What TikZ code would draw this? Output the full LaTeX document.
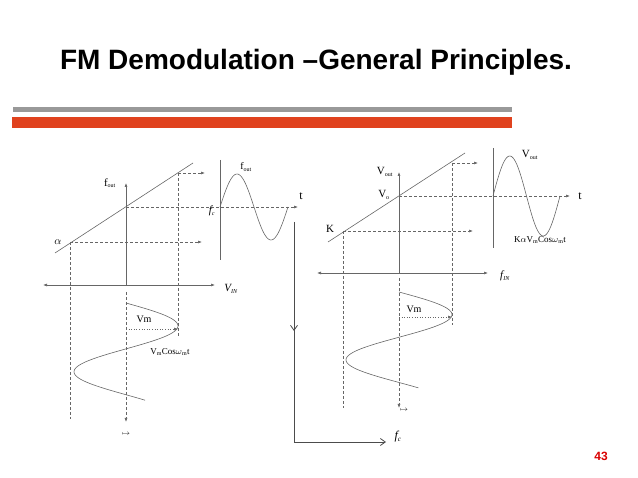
\documentclass[tikz,border=0pt]{standalone}
\usepackage{fontspec}
\setmainfont{Liberation Serif}
\newfontfamily\hfont{Liberation Sans}
\usetikzlibrary{arrows.meta}
\definecolor{barred}{HTML}{E0421E}
\begin{document}
\begin{tikzpicture}[x=1pt,y=-1pt,
  ln/.style={draw=black!60,line width=0.6pt},
  dsh/.style={ln,dash pattern=on 3pt off 2pt},
  arr/.style={-{Latex[length=4pt,width=3pt]}},
  darr/.style={{Latex[length=4pt,width=3pt]}-{Latex[length=4pt,width=3pt]}},
  lbl/.style={font=\fontsize{11}{12}\selectfont,inner sep=1pt},
  sml/.style={font=\fontsize{7}{7}\selectfont,inner sep=0.5pt}]
\useasboundingbox (0,0) rectangle (638,478);
% title
\node (title)[font=\hfont\bfseries\fontsize{28}{30}\selectfont] at (316,62) {FM Demodulation –General Principles.};
\fill[black!40] (13,107) rectangle (512,112);
\fill[barred] (12,117) rectangle (512,128);
\node (pg)[font=\hfont\bfseries\fontsize{12}{13}\selectfont,text=red!85!black] at (601,456) {43};

% ---------- left diagram
\coordinate (lo) at (126,285);
\coordinate (lc) at (126,207);
\coordinate (la) at (70,242);
\coordinate (lt) at (178,173);
\draw[ln] (55,253) -- (193,163);
\draw[ln,arr] (lo) -- (126,183);
\node[lbl] at (110,183) {f\textsubscript{\fontsize{6}{6}\selectfont out}};
\draw[ln,darr] (43,285) -- (215,285);
\node[lbl,font=\itshape\fontsize{11}{12}\selectfont] at (231,289) {V\textsubscript{\fontsize{6}{6}\selectfont IN}};
\draw[dsh,arr] (lc) -- (298,207);
\node[lbl,font=\fontsize{12}{12}\selectfont] at (301,196) {t};
\node[lbl] at (58,242) {$\alpha$};
\draw[dsh,arr] (la) -- (202,242);
\draw[dsh,arr] (lt) -- (205,173);
\draw[dsh] (lt) -- (178,337);
\draw[dsh] (la) -- (70,419);
\draw[dsh,arr] (126,292) -- (126,422);
\node[sml] at (126,434) {$\mapsto$};
\draw[ln] plot[domain=0:6.66,samples=80] ({126+52*sin(\x r)},{303+14.6*\x});
\draw[ln,dotted,arr] (126,329) -- (178,329);
\node[lbl,font=\fontsize{10}{11}\selectfont] at (144,319) {Vm};
\node[lbl,font=\fontsize{9}{10}\selectfont] at (170,352) {V\textsubscript{m}Cos$\omega$\textsubscript{m}t};
% left small sine
\draw[ln] (220,160) -- (220,260);
\draw[ln] plot[domain=0:68,samples=60] ({220+\x},{207-33*sin(\x/68*360)});
\node[lbl,font=\fontsize{10}{11}\selectfont] at (246,167) {f\textsubscript{\fontsize{6}{6}\selectfont out}};
\node[lbl,font=\itshape\fontsize{11}{12}\selectfont] at (212,211) {f\textsubscript{\fontsize{6}{6}\selectfont c}};

% big arrow
\coordinate (bt) at (294,222);
\coordinate (bc) at (294,442);
\coordinate (be) at (385,442);
\draw[draw=black!70,line width=0.8pt] (bt) -- (bc) -- (be);
\draw[draw=black!70,line width=0.8pt,-{Straight Barb[length=5pt,width=7pt]}] (294,300) -- (294,331);
\draw[draw=black!70,line width=0.8pt,-{Straight Barb[length=5pt,width=7pt]}] (360,442) -- (386,442);
\node[lbl,font=\itshape\fontsize{12}{12}\selectfont] at (398,437) {f\textsubscript{\fontsize{7}{7}\selectfont c}};

% ---------- right diagram
\coordinate (ro) at (399,273);
\coordinate (rc) at (399,196);
\coordinate (rk) at (343,231);
\coordinate (rt) at (452,163);
\draw[ln] (328,242) -- (465,153);
\draw[ln,arr] (ro) -- (399,172);
\node[lbl] at (385,172) {V\textsubscript{\fontsize{6}{6}\selectfont out}};
\node[lbl] at (384,195) {V\textsubscript{\fontsize{6}{6}\selectfont o}};
\draw[ln,darr] (317,273) -- (488,273);
\node[lbl,font=\itshape\fontsize{11}{12}\selectfont] at (505,276) {f\textsubscript{\fontsize{6}{6}\selectfont IN}};
\draw[dsh,arr] (rc) -- (570,196);
\node[lbl,font=\fontsize{12}{12}\selectfont] at (580,196) {t};
\node[lbl] at (330,229) {K};
\draw[dsh,arr] (rk) -- (473,231);
\draw[dsh,arr] (rt) -- (478,163);
\draw[dsh] (rt) -- (452,325);
\draw[dsh] (rk) -- (343,408);
\draw[dsh,arr] (399,278) -- (399,408);
\node[sml] at (404,410) {$\mapsto$};
\draw[ln] plot[domain=0:6.66,samples=80] ({399+53*sin(\x r)},{292+14.4*\x});
\draw[ln,dotted,arr] (399,317) -- (452,317);
\node[lbl,font=\fontsize{10}{11}\selectfont] at (414,309) {Vm};
% right small sine
\draw[ln] (493,148) -- (493,248);
\draw[ln] plot[domain=0:67,samples=60] ({493+\x},{196-40*sin(\x/67*360)});
\node[lbl] at (530,155) {V\textsubscript{\fontsize{6}{6}\selectfont out}};
\node[lbl,font=\fontsize{9}{10}\selectfont] at (540,240) {K$\alpha$V\textsubscript{m}Cos$\omega$\textsubscript{m}t};
\end{tikzpicture}
\end{document}
